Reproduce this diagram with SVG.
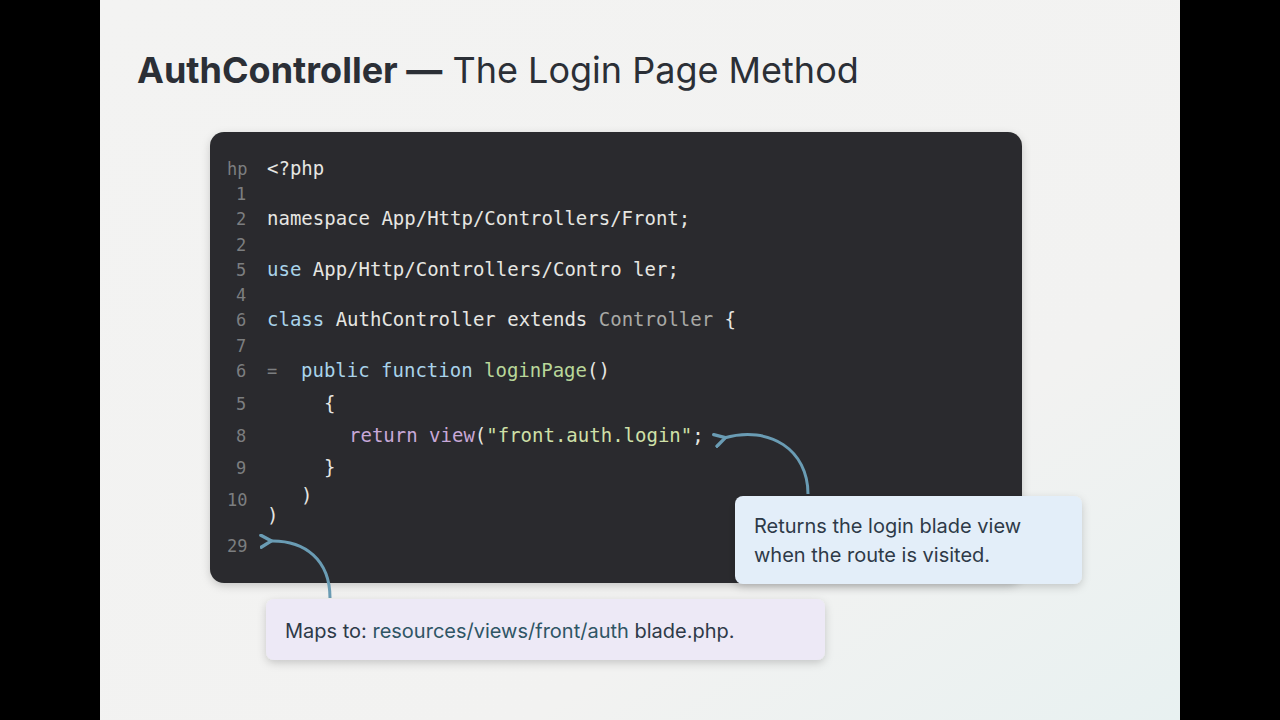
<svg xmlns="http://www.w3.org/2000/svg" width="1280" height="720" viewBox="0 0 1280 720">
<defs>
<linearGradient id="bg" x1="0" y1="0" x2="1" y2="1"><stop offset="0" stop-color="#f3f3f2"/><stop offset="0.7" stop-color="#f2f2f1"/><stop offset="1" stop-color="#e8f1f1"/></linearGradient>
<filter id="sh" x="-10%" y="-10%" width="120%" height="130%"><feDropShadow dx="0" dy="3" stdDeviation="4" flood-opacity="0.18"/></filter>
<marker id="ah" viewBox="0 0 10 10" refX="3" refY="5" markerWidth="5" markerHeight="5" orient="auto-start-reverse"><path d="M9,1 L2,5 L9,9" fill="none" stroke="#6a9cb4" stroke-width="2.2" stroke-linecap="round" stroke-linejoin="round"/></marker>
<style>
.m{font-family:"DejaVu Sans Mono",monospace;font-size:19px;fill:#e6e6e2}
.n{font-family:"DejaVu Sans Mono",monospace;font-size:17px;fill:#7c7e80}
.kw{fill:#a9d3ea}.fn{fill:#b9d79a}.str{fill:#cfe0a8}.rt{fill:#c8a8d8}.dim{fill:#a9a9a6}
.s{font-family:Inter,"Noto Sans",sans-serif;font-size:20px;fill:#2e3a48}
.conn{fill:none;stroke:#6a9cb4;stroke-width:3}
</style>
</defs>
<rect width="1280" height="720" fill="#000"/>
<rect x="100" y="0" width="1080" height="720" fill="url(#bg)"/>
<text x="137" y="83" font-family="Inter,'Noto Sans',sans-serif" font-size="36" fill="#2b2f36"><tspan font-weight="700">AuthController —</tspan> The Login Page Method</text>
<g id="code">
<rect x="210" y="132" width="812" height="451" rx="14" fill="#2b2c2e" filter="url(#sh)"/>
<text class="n" x="227" y="175">hp</text><text class="m" x="267" y="175">&lt;?php</text>
<text class="n" x="236" y="200">1</text>
<text class="n" x="236" y="225">2</text><text class="m" x="267" y="225">namespace App/Http/Controllers/Front;</text>
<text class="n" x="236" y="251">2</text>
<text class="n" x="236" y="276">5</text><text class="m" x="267" y="276"><tspan class="kw">use</tspan> App/Http/Controllers/Contro ler;</text>
<text class="n" x="236" y="301">4</text>
<text class="n" x="236" y="326">6</text><text class="m" x="267" y="326"><tspan class="kw">class</tspan> AuthController extends <tspan class="dim">Controller</tspan> {</text>
<text class="n" x="236" y="352">7</text>
<text class="n" x="236" y="377">6</text><text class="n" x="267" y="377">=</text><text class="m" x="301" y="377"><tspan class="kw">public function</tspan> <tspan class="fn">loginPage</tspan>()</text>
<text class="n" x="236" y="410">5</text><text class="m" x="324" y="410">{</text>
<text class="n" x="236" y="442">8</text><text class="m" x="349" y="442"><tspan class="rt">return view</tspan>(<tspan class="str">"front.auth.login"</tspan>;</text>
<text class="n" x="236" y="474">9</text><text class="m" x="324" y="474">}</text>
<text class="n" x="227" y="506">10</text><text class="m" x="301" y="502">)</text>
<text class="m" x="267" y="522">)</text>
<text class="n" x="227" y="552">29</text>
</g>
<g id="connectors">
<path class="conn" d="M808,494 C808,450 770,425 724,438" marker-end="url(#ah)"/>
<path class="conn" d="M330,598 C330,560 305,540 270,541" marker-end="url(#ah)"/>
</g>
<g id="callout-return">
<rect x="735" y="496" width="347" height="88" rx="8" fill="#e3eef9" filter="url(#sh)"/>
<text class="s" x="754" y="533">Returns the login blade view</text>
<text class="s" x="754" y="562">when the route is visited.</text>
</g>
<g id="callout-maps">
<rect x="266" y="599" width="559" height="61" rx="8" fill="#ede9f6" filter="url(#sh)"/>
<text class="s" x="285" y="638">Maps to: <tspan fill="#2f5565">resources/views/front/auth</tspan>  blade.php.</text>
</g>
</svg>
